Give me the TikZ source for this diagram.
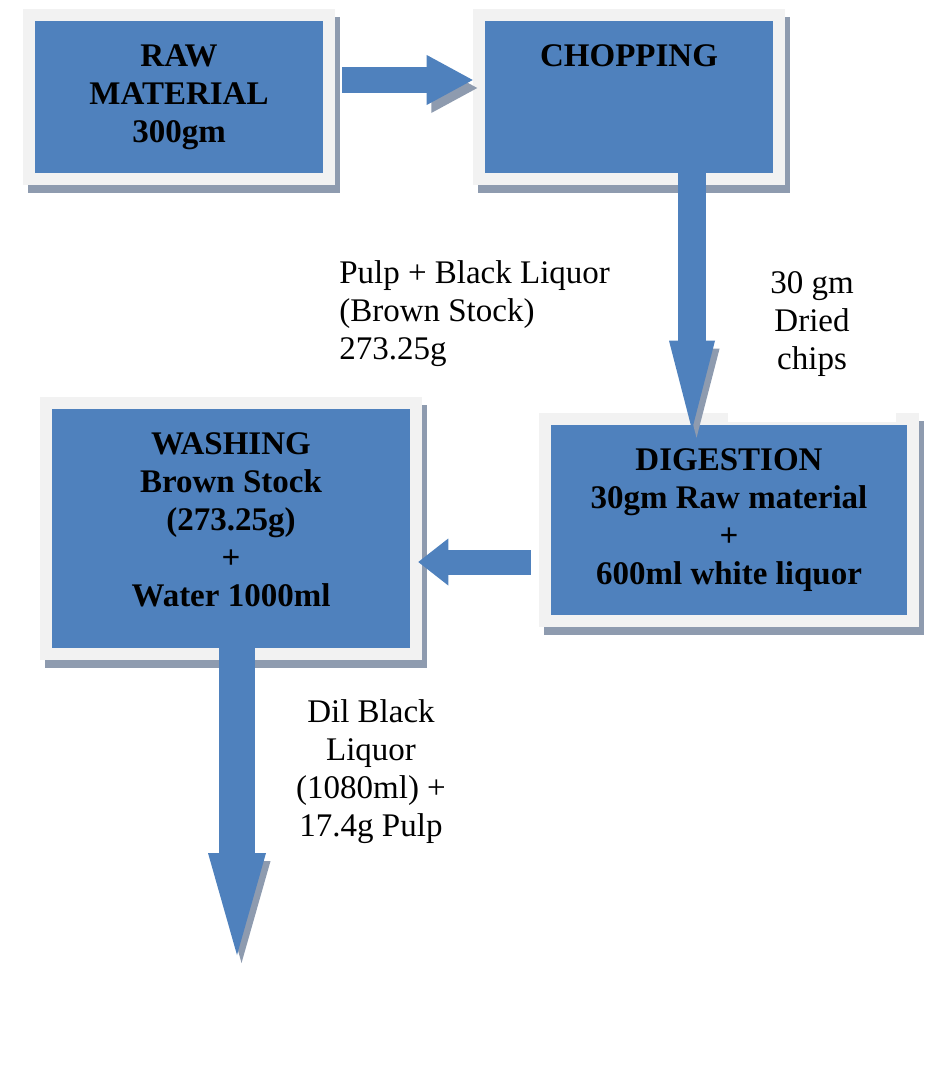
\documentclass[tikz,border=0pt]{standalone}
\usepackage{fontspec}
\setmainfont{Liberation Serif}
\usetikzlibrary{arrows.meta,positioning,shadows}
\definecolor{stepblue}{HTML}{4F81BD}
\definecolor{rimgray}{HTML}{F2F2F2}
\definecolor{shadegray}{HTML}{8E9BAF}
\newcommand\boxfont{\fontsize{24.75pt}{28.5pt}\selectfont\bfseries}
\newcommand\notefont{\fontsize{24.75pt}{28.5pt}\selectfont}

\begin{document}
\begin{tikzpicture}[x=0.75pt,y=-0.75pt,
   stage/.style={fill=rimgray,inner sep=0,
     path picture={\fill[stepblue] ([shift={(9pt,9pt)}]path picture bounding box.south west) rectangle ([shift={(-9pt,-9pt)}]path picture bounding box.north east);},
     drop shadow={shadow xshift=3.4pt,shadow yshift=-6pt,fill=shadegray,opacity=1}},
   ttl/.style={font=\boxfont,align=center,inner sep=0},
   note/.style={font=\notefont,inner sep=0},
   flow/.style={draw=stepblue},
   shd/.style={preaction={draw=shadegray,transform canvas={shift={(3.4pt,-6pt)}}}}]
  \useasboundingbox (0,0) rectangle (940,1074);
  % process stages
  \node[stage,minimum width=234pt,minimum height=132pt] (raw) at (179,97) {};
  \node[stage,minimum width=234pt,minimum height=132pt] (chop) at (629,97) {};
  \node[stage,minimum width=286.5pt,minimum height=197.25pt] (wash) at (231,528.5) {};
  \node[stage,minimum width=285pt,minimum height=160.5pt] (dig) at (729,520) {};
  \node[ttl,below=27pt of raw.north] (rawt) {RAW\\MATERIAL\\300gm};
  \node[ttl,below=27pt of chop.north] (chopt) {CHOPPING};
  \node[ttl,below=27pt of wash.north] (washt) {WASHING\\Brown Stock\\(273.25g)\\+\\Water 1000ml};
  \node[ttl,below=27pt of dig.north] (digt) {DIGESTION\\30gm Raw material\\+\\600ml white liquor};
  % block arrows
  \draw[flow,shd,line width=19.5pt,-{Triangle[length=34.5pt,width=37.5pt,line width=0pt]}] ([shift={(5.25pt,12.75pt)}]raw.east) -- ([yshift=12.75pt]chop.west);
  \draw[flow,shd,line width=21pt,-{Triangle[length=66.75pt,width=34.5pt,line width=0pt]}] ([shift={(47.25pt,9pt)}]chop.south) -- ([shift={(-27.75pt,-12.75pt)}]dig.north);
  \draw[flow,line width=18.75pt,-{Triangle[length=22.5pt,width=35.25pt,line width=0pt]}] ([shift={(-6pt,-31.5pt)}]dig.west) -- ([shift={(-3pt,-25.125pt)}]wash.east);
  \coordinate (drain) at (237,955);
  \draw[flow,shd,line width=27pt,-{Triangle[length=76.5pt,width=43.5pt,line width=0pt]}] ([shift={(4.5pt,9pt)}]wash.south) -- (drain);
  % stream labels
  \node[note,align=left,anchor=north west] (stock) at (339,260) {Pulp + Black Liquor\\(Brown Stock)\\273.25g};
  \node[note,align=center,fill=white,minimum width=126pt,minimum height=147pt,anchor=south] (chips) at (812,422) {30 gm\\Dried\\chips};
  \node[note,align=center,anchor=north] (dil) at (371,699.5) {Dil Black\\Liquor\\(1080ml) +\\17.4g Pulp};
\end{tikzpicture}
\end{document}
